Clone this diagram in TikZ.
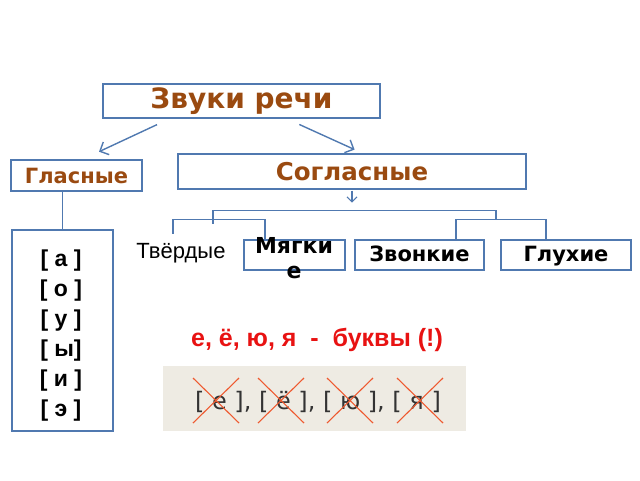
\documentclass[tikz,border=0pt]{standalone}
\usepackage{fontspec}
\setmainfont{Liberation Sans}
\newfontfamily\dejavu{DejaVu Sans}
\usetikzlibrary{calc,arrows.meta}
\definecolor{boxblue}{HTML}{5079B0}
\definecolor{titlebrown}{HTML}{9A4A10}
\definecolor{crossred}{HTML}{EE5A30}
\definecolor{letterred}{HTML}{E81212}
\definecolor{panelgray}{HTML}{EEEBE3}

\begin{document}
\begin{tikzpicture}[x=1pt,y=-1pt,
        block/.style={rectangle,draw=boxblue,line width=1.4pt,inner sep=0pt,text=titlebrown},
        subblock/.style={rectangle,draw=boxblue,line width=1.4pt,inner sep=0pt,minimum width=130pt,minimum height=30pt},
        link/.style={boxblue,line width=1.3pt},
        arrow/.style={-{Straight Barb[length=7pt,width=14pt]},boxblue,line width=1.4pt},
        cross/.style={crossred,line width=1.1pt},
        ]
        \useasboundingbox (0,0) rectangle (640,480);

        % Niveau 1 : titre
        \node[block,minimum width=277pt,minimum height=34pt,font=\dejavu\bfseries\fontsize{28}{32}\selectfont] (zvuki) at (241.5,101) {Звуки речи};

        % Niveau 2 : voyelles / consonnes
        \node[block,minimum width=131pt,minimum height=31pt,font=\dejavu\bfseries\fontsize{21}{25}\selectfont] (glasnye) at (76.5,175.5) {Гласные};
        \node[block,minimum width=348pt,minimum height=35pt,font=\dejavu\bfseries\fontsize{24.5}{28}\selectfont] (soglasnye) at (352,171.5) {Согласные};

        % Niveau 3 : types de consonnes
        \node[font=\fontsize{22}{26}\selectfont] (tverdye) at (181,253) {Твёрдые};
        \node[subblock,minimum width=101pt] (myagkie) at (294.5,255) {};
        \node[font=\dejavu\bfseries\fontsize{22}{25}\selectfont,align=center] (myagkietext) at (294,258) {Мягки\\е};
        \node[subblock,minimum width=129pt,font=\dejavu\bfseries\fontsize{21}{25}\selectfont,text depth=2pt] (zvonkie) at (419.5,255) {Звонкие};
        \node[subblock,font=\dejavu\bfseries\fontsize{21}{25}\selectfont,text depth=2pt] (gluhie) at (566,255) {Глухие};

        % Liste des voyelles
        \node[subblock,minimum width=101pt,minimum height=201pt] (vowels) at (62.5,330.5) {};
        \node[font=\bfseries\fontsize{23}{30}\selectfont,align=center] (vowellist) at (61,336) {{[} а ]\\{[} о ]\\{[} у ]\\{[} ы]\\{[} и ]\\{[} э ]};

        % Lettres
        \node[font=\bfseries\fontsize{25}{28}\selectfont,text=letterred] (letters) at (317,340) {е, ё, ю, я \ - \ буквы (!)};
        \node[fill=panelgray,minimum width=303pt,minimum height=65pt] (panel) at (314.5,398.5) {};
        \node[font=\dejavu\fontsize{24}{28}\selectfont,text=black!80] (sounds) at (318,402) {[ е ], [ ё ], [ ю ], [ я ]};
        \foreach \cx in {216,281,350,420}
            \draw[cross] (\cx-23,378) -- (\cx+23,423) (\cx-23,423) -- (\cx+23,378);

        % Connexions niveau 1-2
        \draw[arrow,shorten <=14pt,shorten >=18pt] ($(zvuki.south west)+(67.4,0)$) -- ($(glasnye.north west)+(72.4,0)$);
        \draw[arrow,shorten <=14pt,shorten >=9pt] ($(zvuki.south west)+(184.3,0)$) -- ($(soglasnye.north west)+(185.5,0)$);

        % Connexions niveau 2-3
        \draw[link] (glasnye.south -| vowels.north) -- (vowels.north);
        \draw[-{Straight Barb[length=5pt,width=10pt]},boxblue,line width=1.2pt,shorten <=1pt] (soglasnye.south) -- ++(0,13);
        \draw[link] ($(soglasnye.south)+(-139,34)$) -- ++(0,-13) -| ($(soglasnye.south)+(144,29)$);
        \draw[link] ([xshift=-8pt,yshift=6pt]tverdye.north) -- ++(0,-14) -| ([xshift=-29.5pt]myagkie.north);
        \draw[link] ([xshift=36.5pt]zvonkie.north) -- ++(0,-20) -| ([xshift=-20pt]gluhie.north);
    \end{tikzpicture}
\end{document}
